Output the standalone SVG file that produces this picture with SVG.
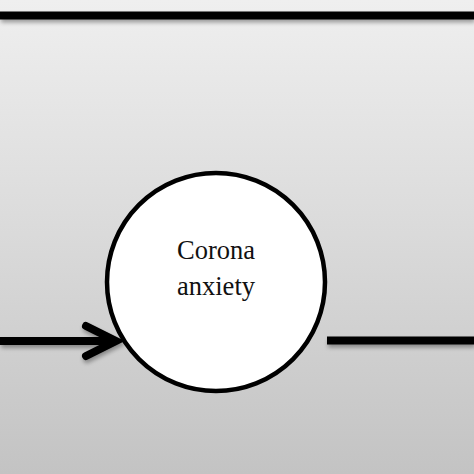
<svg xmlns="http://www.w3.org/2000/svg" width="474" height="474" viewBox="0 0 474 474">
  <defs>
    <linearGradient id="bg" x1="0" y1="0" x2="0" y2="1">
      <stop offset="0" stop-color="#efefef"/>
      <stop offset="0.45" stop-color="#dcdcdc"/>
      <stop offset="1" stop-color="#c3c3c3"/>
    </linearGradient>
    <filter id="sh" x="-10%" y="-50%" width="120%" height="300%">
      <feGaussianBlur in="SourceAlpha" stdDeviation="2"/>
      <feOffset dx="1" dy="3" result="b"/>
      <feComponentTransfer><feFuncA type="linear" slope="0.35"/></feComponentTransfer>
      <feMerge><feMergeNode/><feMergeNode in="SourceGraphic"/></feMerge>
    </filter>
    <style>
      .ln { stroke: #000; stroke-width: 8; fill: none; }
      .lbl { font-family: "Liberation Serif", "Times New Roman", serif; font-size: 26.5px; fill: #111; text-anchor: middle; }
    </style>
  </defs>
  <rect width="474" height="474" fill="url(#bg)"/>
  <g id="connectors" filter="url(#sh)">
    <line class="ln" x1="0" y1="15.5" x2="474" y2="15.5"/>
    <line class="ln" x1="0" y1="341" x2="114" y2="341"/>
    <polyline class="ln" points="86,326 116,341 86,356" stroke-linecap="round" stroke-linejoin="miter"/>
    <line class="ln" x1="327" y1="340.5" x2="474" y2="340.5" stroke-width="7.5"/>
  </g>
  <g id="node-corona-anxiety">
    <circle cx="216" cy="282" r="109" fill="#fff" stroke="#000" stroke-width="4.5"/>
    <text class="lbl" x="216" y="259">Corona</text>
    <text class="lbl" x="216" y="295">anxiety</text>
  </g>
</svg>
